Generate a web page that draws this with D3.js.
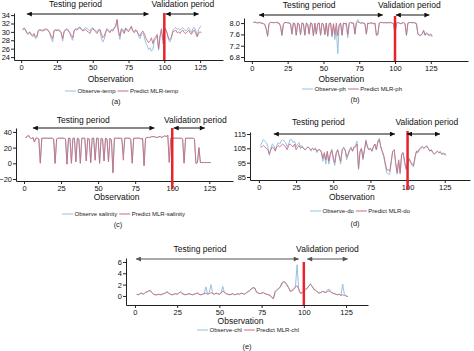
<!DOCTYPE html>
<html>
<head>
<meta charset="utf-8">
<script src="https://cdn.jsdelivr.net/npm/d3@7"></script>
<style>
  body { margin: 0; background: #fff; }
  svg { display: block; font-family: "Liberation Sans", Arial, sans-serif; }
</style>
</head>
<body>
<svg id="chart" width="474" height="351"></svg>
<script>
// observation index 1..126
const observation = d3.range(1, 127);
const xTicks = [0, 25, 50, 75, 100, 125];
const splitAt = 100;

// (a) temperature
const tempObserved = [
  30.6, 31.0, 30.4, 29.6, 29.4, 30.0, 29.2, 28.8, 29.4, 28.4,
  28.6, 30.4, 30.6, 30.4, 30.4, 30.6, 30.8, 30.6, 30.4, 29.6,
  28.4, 27.6, 30.4, 30.6, 30.4, 30.6, 30.4, 29.6, 27.8, 30.2,
  30.6, 30.8, 30.4, 29.6, 28.6, 28.0, 30.4, 30.8, 30.6, 31.0,
  31.2, 30.8, 30.4, 30.8, 31.0, 30.8, 30.6, 30.2, 30.8, 31.0,
  30.6, 30.4, 30.0, 30.6, 30.4, 28.6, 27.6, 28.2, 29.6, 30.8,
  30.4, 30.0, 30.6, 30.6, 31.0, 31.2, 32.6, 29.6, 28.2, 30.8,
  30.6, 30.0, 31.0, 30.6, 30.4, 30.8, 31.0, 30.4, 30.0, 30.6,
  30.2, 29.0, 28.4, 29.4, 29.8, 28.8, 27.4, 26.8, 25.8, 26.2,
  25.4, 25.8, 27.8, 28.4, 29.0, 25.6, 28.6, 30.8, 27.2, 31.0,
  30.8, 29.8, 28.0, 27.6, 28.6, 30.4, 30.8, 31.0, 30.6, 30.8,
  30.4, 30.8, 31.0, 30.6, 30.2, 30.6, 31.0, 30.4, 29.8, 30.8,
  31.0, 30.4, 29.0, 30.6, 31.2, 31.4
];
const tempPredicted = [
  30.4, 30.8, 30.6, 29.8, 29.6, 30.0, 29.4, 29.2, 29.6, 28.8,
  29.0, 30.2, 30.4, 30.4, 30.2, 30.4, 30.5, 30.6, 30.2, 29.8,
  29.0, 28.4, 30.2, 30.4, 30.3, 30.4, 30.2, 29.8, 28.4, 30.0,
  30.4, 30.6, 30.2, 29.8, 29.2, 28.6, 30.2, 30.6, 30.4, 30.8,
  31.0, 30.6, 30.2, 30.4, 30.6, 30.2, 30.0, 29.6, 30.4, 30.8,
  30.4, 30.0, 29.6, 30.2, 30.6, 29.6, 28.6, 29.0, 30.0, 30.6,
  30.2, 29.8, 30.4, 30.2, 30.8, 31.4, 33.0, 30.2, 29.0, 30.6,
  30.2, 29.6, 30.8, 30.4, 30.0, 30.6, 31.4, 30.2, 29.8, 30.4,
  30.0, 29.4, 29.0, 29.8, 30.2, 29.6, 28.6, 28.0, 27.4, 27.8,
  28.6, 27.2, 28.4, 28.8, 29.4, 26.0, 29.0, 30.6, 28.0, 30.8,
  30.4, 29.6, 28.4, 28.2, 28.8, 30.0, 30.2, 30.4, 29.8, 30.0,
  29.6, 30.2, 30.4, 29.8, 29.6, 30.0, 30.4, 29.8, 29.4, 30.2,
  30.4, 29.6, 28.8, 29.8, 30.0, 29.8
];

// (b) pH
const phObserved = [
  8.03, 8.04, 8.02, 8.01, 8.03, 8.01, 8.00, 7.98, 7.95, 7.78,
  7.52, 7.98, 8.03, 8.02, 8.02, 8.02, 8.03, 8.01, 8.00, 7.88,
  7.55, 7.95, 8.03, 8.02, 8.01, 8.01, 7.98, 7.60, 8.01, 7.98,
  7.56, 8.00, 7.96, 7.58, 8.01, 7.98, 7.56, 8.01, 7.96, 7.60,
  8.01, 7.98, 7.54, 8.00, 7.60, 7.98, 8.01, 7.56, 8.00, 7.96,
  7.58, 8.00, 7.52, 7.98, 8.00, 7.50, 7.96, 7.42, 7.80, 6.92,
  7.90, 8.00, 7.56, 8.00, 7.98, 7.90, 7.48, 7.98, 8.02, 8.00,
  8.00, 7.60, 8.02, 8.12, 8.04, 8.00, 8.01, 8.00, 7.98, 7.60,
  8.00, 7.98, 8.01, 8.00, 7.98, 8.00, 7.56, 7.58, 8.00, 8.02,
  8.03, 8.01, 8.02, 8.01, 8.02, 8.01, 8.03, 8.00, 7.98, 7.58,
  8.00, 8.02, 8.00, 7.98, 8.00, 8.02, 7.98, 7.55, 8.00, 8.02,
  8.02, 8.01, 8.02, 8.00, 7.98, 7.60, 7.56, 7.56, 7.60, 7.72,
  7.56, 7.64, 7.58, 7.55, 7.58, 7.50
];
const phPredicted = [
  8.02, 8.03, 8.02, 8.00, 8.02, 8.01, 8.00, 7.98, 7.96, 7.80,
  7.55, 7.98, 8.02, 8.02, 8.01, 8.02, 8.02, 8.01, 8.00, 7.90,
  7.58, 7.95, 8.02, 8.02, 8.01, 8.00, 7.98, 7.62, 8.00, 7.98,
  7.58, 8.00, 7.96, 7.60, 8.00, 7.98, 7.58, 8.00, 7.96, 7.62,
  8.00, 7.98, 7.56, 8.00, 7.62, 7.98, 8.00, 7.58, 8.00, 7.96,
  7.60, 8.00, 7.55, 7.98, 8.00, 7.56, 7.98, 7.60, 8.00, 7.55,
  7.95, 8.00, 7.58, 8.00, 7.98, 8.00, 7.60, 8.00, 8.02, 8.00,
  8.00, 7.62, 8.00, 8.04, 8.02, 8.00, 8.01, 8.00, 7.98, 7.62,
  8.00, 7.98, 8.01, 8.00, 7.98, 8.00, 7.58, 7.60, 8.00, 8.02,
  8.02, 8.01, 8.02, 8.00, 8.02, 8.01, 8.02, 8.00, 7.98, 7.60,
  8.00, 8.02, 8.00, 7.98, 8.00, 8.02, 7.98, 7.58, 8.00, 8.02,
  8.02, 8.01, 8.02, 8.00, 7.98, 7.62, 7.58, 7.58, 7.62, 7.75,
  7.58, 7.66, 7.60, 7.58, 7.62, 7.55
];

// (c) salinity
const salObserved = [
  33, 33, 35, 33, 31, 33, 28, 32, 32, 31,
  1, 32, 32, 32, 32, 32, 32, 32, 32, 31,
  0, 31, 32, 32, 32, 32, 32, 31, -1, 32,
  32, 1, 32, 32, 2, 32, 31, 0, 32, 32,
  32, 3, 32, 31, 1, 32, 32, 4, 32, 32,
  0, 32, 31, 3, 32, 31, 2, 32, 29, -12,
  32, 32, 32, 32, 32, 30, 12, 32, 32, 32,
  32, 31, 1, 32, 32, 32, 32, 32, 31, 32,
  -3, 32, 33, 33, 33, 34, 34, 34, 33, 33,
  34, 34, 33, 34, 35, 34, 36, 2, 32, 32,
  32, 32, 32, 32, 32, 32, 31, 1, 32, 32,
  32, 32, 32, 32, 31, 0, 1, 20, 1, 1,
  1, 1, 1, 1, 1, 1
];
const salPredicted = [
  33, 34, 36, 33, 31, 33, 27, 32, 32, 31,
  0, 32, 32, 32, 32, 32, 32, 32, 32, 31,
  0, 31, 32, 32, 32, 32, 32, 31, -1, 32,
  32, 0, 32, 32, 2, 32, 31, 0, 32, 32,
  32, 3, 32, 31, 1, 32, 32, 4, 32, 32,
  0, 32, 31, 3, 32, 31, 2, 32, 30, -12,
  32, 32, 32, 32, 32, 32, 4, 32, 32, 32,
  32, 31, 0, 32, 32, 32, 32, 32, 31, 32,
  -3, 32, 33, 33, 33, 34, 34, 34, 33, 33,
  34, 34, 33, 34, 35, 34, 36, 1, 32, 32,
  32, 32, 32, 32, 32, 32, 31, 0, 32, 32,
  32, 32, 32, 32, 31, 0, 1, 20, 1, 1,
  1, 1, 1, 1, 1, 1
];

// (d) dissolved oxygen
const doObserved = [
  107, 109, 111, 110, 109, 106, 100, 105, 108, 107,
  104, 107, 109, 108, 110, 111, 110, 109, 106, 108,
  111, 111, 109, 110, 106, 108, 109, 106, 107, 105,
  104, 105, 106, 105, 103, 105, 104, 105, 102, 104,
  104, 102, 96, 101, 94, 102, 94, 100, 104, 97,
  93, 101, 104, 99, 94, 104, 106, 104, 97, 100,
  104, 106, 103, 106, 107, 110, 90, 102, 105, 97,
  104, 111, 106, 104, 105, 103, 106, 108, 104, 110,
  112, 106, 102, 99, 93, 88, 87, 87, 95, 103,
  104, 94, 87, 96, 87, 100, 102, 95, 90, 93,
  97, 95, 93, 92, 98, 103, 103, 105, 106, 106,
  105, 106, 107, 105, 103, 104, 102, 101, 102, 103,
  102, 103, 101, 102, 101, 101
];
const doPredicted = [
  106, 106, 107, 106, 105, 104, 101, 104, 106, 105,
  103, 106, 107, 106, 107, 108, 107, 106, 104, 107,
  108, 107, 106, 108, 104, 106, 107, 105, 106, 105,
  104, 105, 106, 105, 104, 105, 104, 105, 103, 104,
  104, 103, 98, 102, 97, 103, 96, 101, 104, 99,
  95, 102, 104, 100, 96, 104, 105, 104, 99, 101,
  104, 105, 103, 106, 106, 108, 91, 103, 105, 98,
  104, 110, 106, 104, 105, 103, 106, 108, 104, 109,
  111, 106, 103, 100, 95, 90, 90, 89, 96, 103,
  104, 95, 88, 97, 88, 101, 102, 96, 91, 94,
  98, 96, 94, 93, 99, 103, 102, 104, 105, 106,
  105, 106, 106, 105, 103, 104, 102, 101, 102, 103,
  102, 102, 101, 101, 101, 100
];

// (e) chlorophyll
const chlObserved = [
  0.3, 0.2, 0.4, 0.5, 0.3, 0.6, 0.7, 0.9, 1.0, 0.6,
  0.3, 0.2, 0.2, 0.3, 0.2, 0.3, 0.4, 0.5, 0.8, 0.5,
  0.3, 0.2, 0.3, 0.4, 0.3, 0.5, 0.8, 0.4, 0.3, 0.2,
  0.3, 0.4, 0.3, 0.2, 0.3, 0.4, 0.5, 0.3, 0.2, 0.3,
  0.4, 1.6, 0.4, 0.6, 2.0, 0.5, 0.3, 0.5, 0.4, 0.3,
  0.6, 1.7, 0.6, 0.4, 0.3, 0.2, 0.3, 0.4, 0.2, 0.3,
  0.4, 0.3, 0.5, 0.4, 0.3, 0.5, 0.7, 0.9, 1.2, 1.4,
  1.3, 0.6, 0.5, 0.4, 0.5, 0.6, 0.4, 0.3, 0.2, 0.1,
  -0.2, -0.4, 0.6, 1.0, 1.2, 1.5, 2.0, 2.6, 2.3, 1.8,
  1.4, 0.8, 0.9, 1.1, 1.5, 5.5, 1.0, 0.4, 0.5, 0.8,
  1.1, 1.3, 1.8, 2.2, 1.6, 1.1, 1.0, 0.7, 0.5, 0.6,
  0.8, 0.7, 0.6, 1.1, 1.2, 0.7, 0.5, 0.4, 0.3, 0.2,
  0.3, 0.1, 2.1, 0.3, 0.0, -0.1
];
const chlPredicted = [
  0.3, 0.2, 0.4, 0.5, 0.3, 0.6, 0.7, 0.8, 1.0, 0.6,
  0.3, 0.2, 0.2, 0.3, 0.2, 0.3, 0.4, 0.5, 0.7, 0.5,
  0.3, 0.2, 0.3, 0.4, 0.3, 0.5, 0.7, 0.4, 0.3, 0.2,
  0.3, 0.4, 0.3, 0.2, 0.3, 0.4, 0.5, 0.3, 0.2, 0.3,
  0.4, 0.5, 0.3, 0.4, 0.6, 0.4, 0.3, 0.5, 0.4, 0.3,
  0.5, 0.9, 0.6, 0.4, 0.3, 0.2, 0.3, 0.4, 0.2, 0.3,
  0.4, 0.3, 0.5, 0.4, 0.3, 0.6, 0.8, 1.0, 1.3, 1.5,
  1.4, 0.7, 0.5, 0.4, 0.5, 0.6, 0.4, 0.3, 0.2, 0.1,
  -0.3, -0.5, 0.8, 1.1, 1.3, 1.6, 2.3, 2.5, 2.4, 2.0,
  1.5, 0.8, 1.0, 1.2, 1.6, 1.8, 1.2, 0.5, 0.6, 0.9,
  1.2, 1.4, 1.8, 2.0, 1.7, 1.2, 1.0, 0.7, 0.5, 0.6,
  0.8, 0.7, 0.6, 0.8, 0.9, 0.7, 0.5, 0.4, 0.3, 0.2,
  0.3, 0.1, 0.2, 0.1, 0.0, -0.1
];

const observeColor = '#98c2de';
const predictColor = '#c76e80';
const splitColor = '#e8232b';

// layout of each panel (pixels are layout, values come from the arrays above)
const panels = [
  { label: '(a)', obs: tempObserved, pred: tempPredicted, obsName: 'Observe-temp', predName: 'Predict MLR-temp',
    yTicks: [24, 26, 28, 30, 32, 34], yFmt: d3.format('d'),
    xDomain: [-5, 141], xRange: [14, 223], yDomain: [23.3, 34.5], yRange: [60, 13],
    testArrow: [4, 89], valArrow: [101, 124], arrowY: 14, textY: 7, testX: 38, valX: 113,
    redTop: 13, redBottom: 60, titleY: 82, legendX: 65, legendY: 91, labelX: 116, labelY: 104, arrowColor: '#111' },
  { label: '(b)', obs: phObserved, pred: phPredicted, obsName: 'Observe-ph', predName: 'Predict MLR-ph',
    yTicks: [6.8, 7.2, 7.6, 8.0], yFmt: d3.format('.1f'),
    xDomain: [-5.5, 151], xRange: [244, 468], yDomain: [6.66, 8.18], yRange: [61, 18],
    testArrow: [5, 91.5], valArrow: [100.6, 124], arrowY: 15, textY: 8, testX: 40, valX: 110,
    redTop: 16, redBottom: 61, titleY: 82, legendX: 302, legendY: 89, labelX: 355, labelY: 102, arrowColor: '#111' },
  { label: '(c)', obs: salObserved, pred: salPredicted, obsName: 'Observe salinity', predName: 'Predict MLR-salinity',
    yTicks: [-20, 0, 20, 40], yFmt: d3.format('d'),
    xDomain: [-5.4, 141], xRange: [16, 233], yDomain: [-22.5, 45], yRange: [181, 128],
    testArrow: [6, 88], valArrow: [101, 122], arrowY: 128, textY: 123, testX: 40, valX: 115.6,
    redTop: 128, redBottom: 189, titleY: 200, legendX: 62, legendY: 214, labelX: 118, labelY: 227, arrowColor: '#111' },
  { label: '(d)', obs: doObserved, pred: doPredicted, obsName: 'Observe-do', predName: 'Predict MLR-do',
    yTicks: [85, 95, 105, 115], yFmt: d3.format('d'),
    xDomain: [-6, 142], xRange: [250, 470], yDomain: [82.9, 116.4], yRange: [180, 132],
    testArrow: [10, 91.5], valArrow: [99.6, 121.8], arrowY: 134, textY: 125, testX: 40, valX: 113,
    redTop: 131, redBottom: 190, titleY: 199.5, legendX: 310, legendY: 211, labelX: 355, labelY: 226, arrowColor: '#111' },
  { label: '(e)', obs: chlObserved, pred: chlPredicted, obsName: 'Observe-chl', predName: 'Predict MLR-chl',
    yTicks: [0, 2, 4, 6], yFmt: d3.format('d'),
    xDomain: [-5.3, 138], xRange: [126, 368], yDomain: [-1.6, 6.7], yRange: [305, 258],
    testArrow: [0.6, 97], valArrow: [102, 126], arrowY: 259, textY: 252, testX: 38.5, valX: 114,
    redTop: 262, redBottom: 305, titleY: 323.5, legendX: 197, legendY: 330, labelX: 247, labelY: 349, arrowColor: '#555' }
];

const svg = d3.select('#chart');
const defs = svg.append('defs');

// arrow heads, one per colour
function arrowMarker(id, color, reverse) {
  defs.append('marker')
    .attr('id', id)
    .attr('viewBox', '0 0 10 10')
    .attr('refX', reverse ? 0 : 10)
    .attr('refY', 5)
    .attr('markerWidth', 6)
    .attr('markerHeight', 5)
    .attr('markerUnits', 'userSpaceOnUse')
    .attr('orient', 'auto')
    .append('path')
    .attr('d', reverse ? 'M10,0 L0,5 L10,10 Z' : 'M0,0 L10,5 L0,10 Z')
    .attr('fill', color);
}
arrowMarker('endDark', '#111', false);
arrowMarker('startDark', '#111', true);
arrowMarker('endGrey', '#555', false);
arrowMarker('startGrey', '#555', true);

function drawArrow(g, x, p, range) {
  const dark = p.arrowColor === '#111';
  g.append('line')
    .attr('x1', x(range[0]))
    .attr('x2', x(range[1]))
    .attr('y1', p.arrowY)
    .attr('y2', p.arrowY)
    .attr('stroke', p.arrowColor)
    .attr('stroke-width', 1)
    .attr('marker-start', `url(#${dark ? 'startDark' : 'startGrey'})`)
    .attr('marker-end', `url(#${dark ? 'endDark' : 'endGrey'})`);
}

function drawPanel(p) {
  const g = svg.append('g');

  const x = d3.scaleLinear().domain(p.xDomain).range(p.xRange);
  const y = d3.scaleLinear().domain(p.yDomain).range(p.yRange);

  // axes
  const xAxis = g.append('g')
    .attr('transform', `translate(0,${p.yRange[0]})`)
    .call(d3.axisBottom(x).tickValues(xTicks).tickSize(3).tickSizeOuter(0).tickPadding(1.5));
  const yAxis = g.append('g')
    .attr('transform', `translate(${p.xRange[0]},0)`)
    .call(d3.axisLeft(y).tickValues(p.yTicks).tickFormat(p.yFmt).tickSize(3).tickSizeOuter(0).tickPadding(1));

  [xAxis, yAxis].forEach(a => {
    a.selectAll('text').style('font-size', '7.5px').attr('fill', '#111');
    a.selectAll('line, path').attr('stroke', '#222');
    a.attr('font-family', null);
  });

  // series
  const line = values => d3.line()
    .x((d, i) => x(observation[i]))
    .y(d => y(d))(values);

  g.append('path')
    .attr('d', line(p.obs))
    .attr('fill', 'none')
    .attr('stroke', observeColor)
    .attr('stroke-width', 1);

  g.append('path')
    .attr('d', line(p.pred))
    .attr('fill', 'none')
    .attr('stroke', predictColor)
    .attr('stroke-width', 0.9);

  // split between testing and validation
  g.append('line')
    .attr('x1', x(splitAt))
    .attr('x2', x(splitAt))
    .attr('y1', p.redTop)
    .attr('y2', p.redBottom)
    .attr('stroke', splitColor)
    .attr('stroke-width', 2.5);

  // period annotations
  drawArrow(g, x, p, p.testArrow);
  drawArrow(g, x, p, p.valArrow);

  g.append('text')
    .attr('x', x(p.testX))
    .attr('y', p.textY)
    .attr('text-anchor', 'middle')
    .style('font-size', '8.5px')
    .attr('fill', '#111')
    .text('Testing period');

  g.append('text')
    .attr('x', x(p.valX))
    .attr('y', p.textY)
    .attr('text-anchor', 'middle')
    .style('font-size', '8.5px')
    .attr('fill', '#111')
    .text('Validation period');

  // axis title
  g.append('text')
    .attr('x', (x(0) + x(125)) / 2)
    .attr('y', p.titleY)
    .attr('text-anchor', 'middle')
    .style('font-size', '8.5px')
    .attr('fill', '#111')
    .text('Observation');

  // legend
  const leg = g.append('g').attr('transform', `translate(${p.legendX},${p.legendY})`);
  let cx = 0;
  [[p.obsName, observeColor], [p.predName, predictColor]].forEach(([name, color]) => {
    leg.append('line')
      .attr('x1', cx).attr('x2', cx + 11)
      .attr('y1', 0).attr('y2', 0)
      .attr('stroke', color)
      .attr('stroke-width', 1);
    const t = leg.append('text')
      .attr('x', cx + 12.5)
      .attr('y', 2.2)
      .style('font-size', '6px')
      .attr('fill', '#222')
      .text(name);
    cx += 12.5 + t.node().getComputedTextLength() + 2;
  });

  // panel label
  g.append('text')
    .attr('x', p.labelX)
    .attr('y', p.labelY)
    .attr('text-anchor', 'middle')
    .style('font-size', '7.5px')
    .attr('fill', '#222')
    .text(p.label);
}

panels.forEach(drawPanel);
</script>
</body>
</html>
